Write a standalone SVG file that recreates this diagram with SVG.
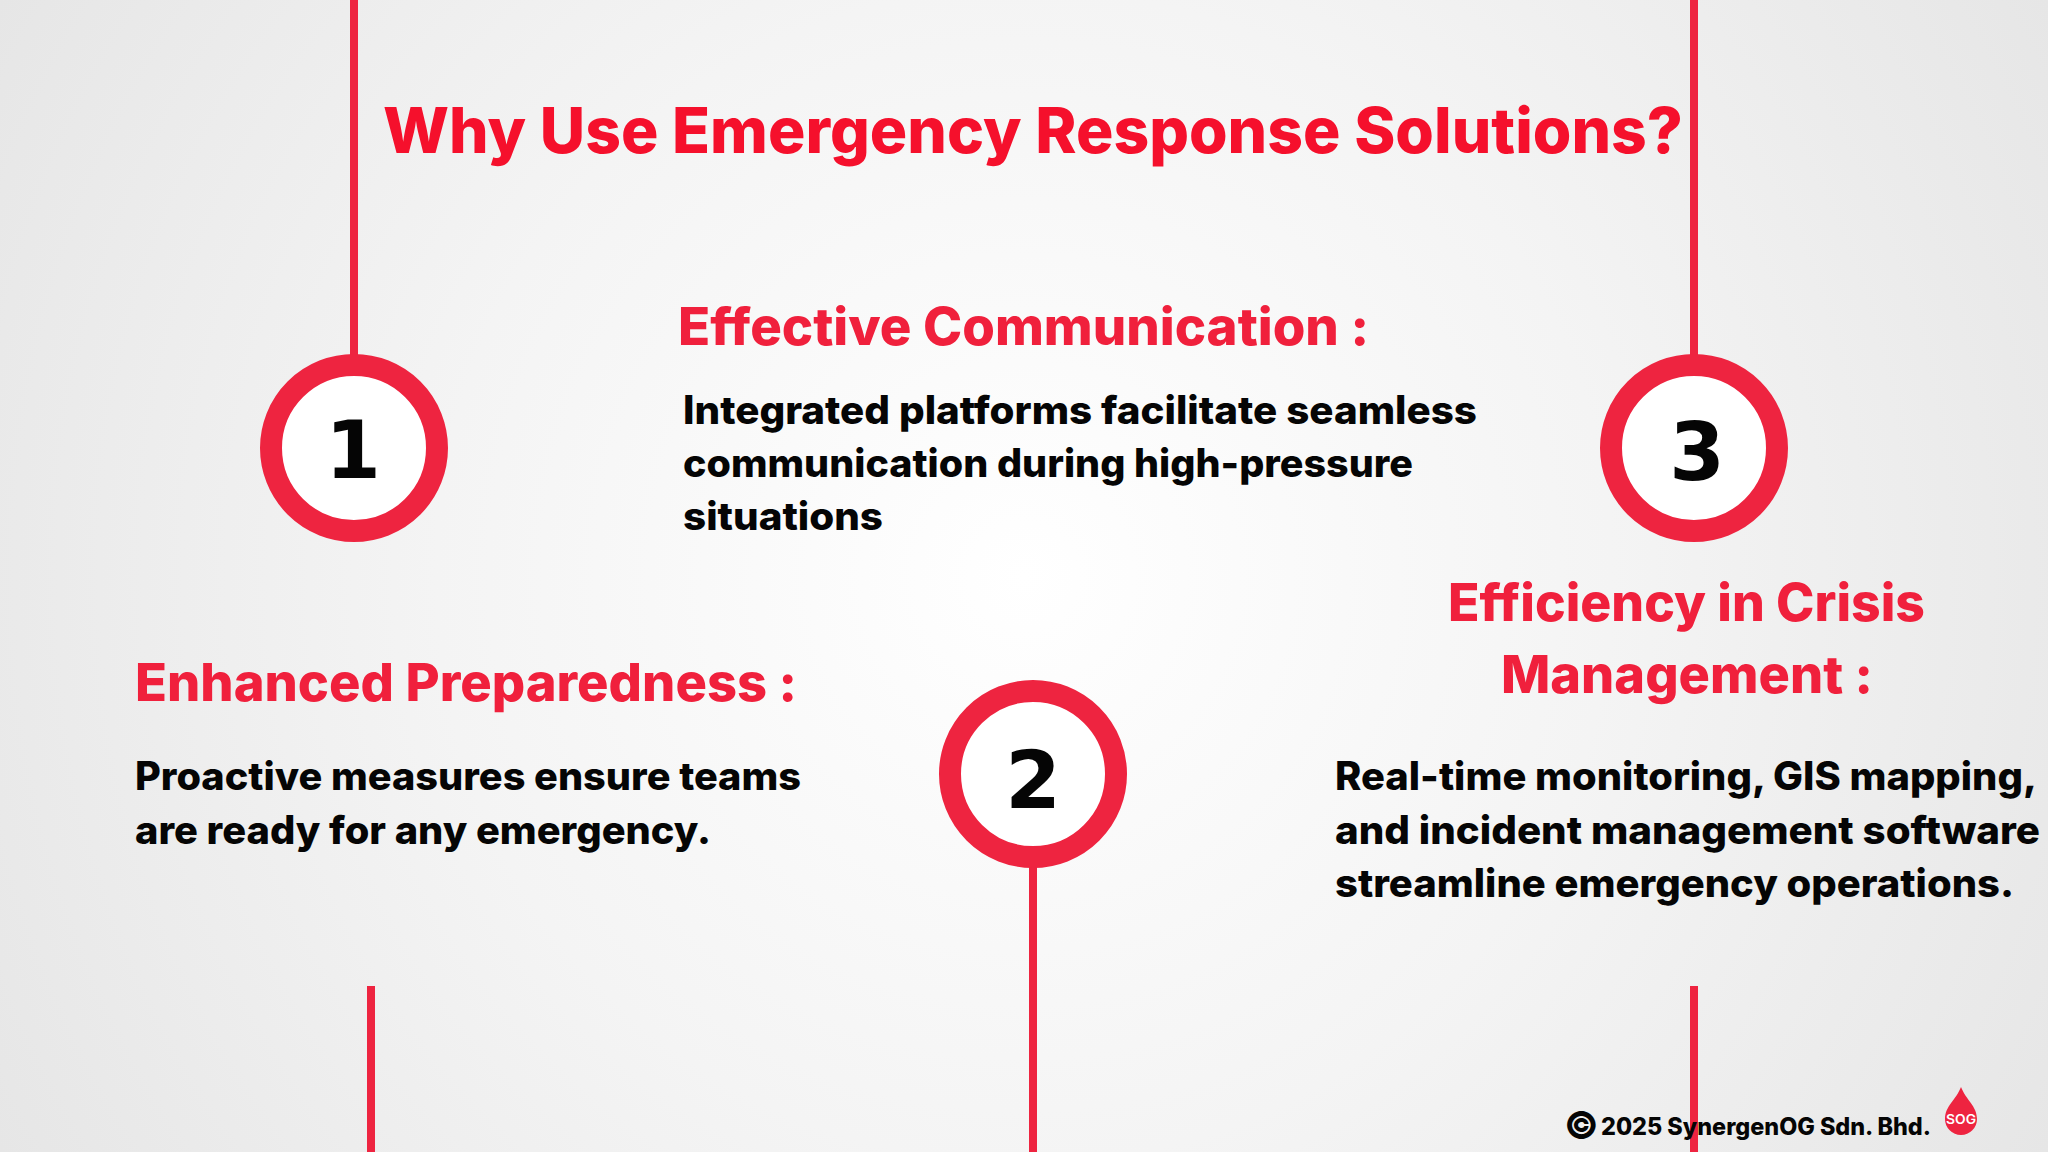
<svg xmlns="http://www.w3.org/2000/svg" width="2048" height="1152" viewBox="0 0 2048 1152">
<defs><radialGradient id="bg" gradientUnits="userSpaceOnUse" cx="1024" cy="576" r="1175"><stop offset="0" stop-color="#ffffff"/><stop offset="0.5" stop-color="#f4f4f4"/><stop offset="1" stop-color="#e6e6e6"/></radialGradient></defs>
<style>
.h{font-family:"Inter","Liberation Sans",sans-serif;font-weight:800;fill:#f0203c}
.t{fill:#f5102c}
.b{font-family:"Inter","Liberation Sans",sans-serif;font-weight:800;fill:#050505;font-size:39px}
.n{font-family:"DejaVu Sans",sans-serif;font-weight:700;font-size:80px;fill:#050505;text-anchor:middle}
.f{font-family:"Inter","Liberation Sans",sans-serif;font-weight:800;fill:#050505}
.l{stroke:#ee2440;stroke-width:8;fill:none}
.c{fill:#fff;stroke:#ee2440;stroke-width:22}
</style>
<rect width="2048" height="1152" fill="url(#bg)"/>
<g id="connectors">
<path class="l" d="M354 0V360M1694 0V360M1033 860V1152M371 986V1152M1694 986V1152"/>
</g>
<g id="title"><text class="h t" x="383" y="153" font-size="63" textLength="1300" lengthAdjust="spacingAndGlyphs">Why Use Emergency Response Solutions?</text></g>
<g id="node1"><circle class="c" cx="354" cy="448" r="83"/><text class="n" x="353" y="478">1</text></g>
<g id="node2"><circle class="c" cx="1033" cy="774" r="83"/><text class="n" x="1033" y="808">2</text></g>
<g id="node3"><circle class="c" cx="1694" cy="448" r="83"/><text class="n" x="1697" y="480">3</text></g>
<g id="text1"><text class="h" x="135" y="701" font-size="52" textLength="662" lengthAdjust="spacingAndGlyphs">Enhanced Preparedness :</text>
<text class="b" x="135" y="790" textLength="666" lengthAdjust="spacingAndGlyphs">Proactive measures ensure teams</text><text class="b" x="135" y="844" textLength="576" lengthAdjust="spacingAndGlyphs">are ready for any emergency.</text></g>
<g id="text2"><text class="h" x="678" y="345" font-size="52" textLength="691" lengthAdjust="spacingAndGlyphs">Effective Communication :</text>
<text class="b" x="683" y="424" textLength="794" lengthAdjust="spacingAndGlyphs">Integrated platforms facilitate seamless</text><text class="b" x="683" y="477" textLength="730" lengthAdjust="spacingAndGlyphs">communication during high-pressure</text><text class="b" x="683" y="530" textLength="200" lengthAdjust="spacingAndGlyphs">situations</text></g>
<g id="text3"><text class="h" x="1448" y="621" font-size="52" textLength="477" lengthAdjust="spacingAndGlyphs">Efficiency in Crisis</text><text class="h" x="1501" y="693" font-size="52" textLength="372" lengthAdjust="spacingAndGlyphs">Management :</text>
<text class="b" x="1335" y="790" textLength="702" lengthAdjust="spacingAndGlyphs">Real-time monitoring, GIS mapping,</text><text class="b" x="1335" y="844" textLength="705" lengthAdjust="spacingAndGlyphs">and incident management software</text><text class="b" x="1335" y="897" textLength="679" lengthAdjust="spacingAndGlyphs">streamline emergency operations.</text></g>
<g id="footer"><text class="f" x="1564" y="1139" font-size="38">©</text><text class="f" x="1601" y="1135" font-size="24" textLength="330" lengthAdjust="spacingAndGlyphs">2025 SynergenOG Sdn. Bhd.</text>
<path d="M1961 1087C1966 1100 1977 1106 1977 1119A16 16 0 0 1 1945 1119C1945 1106 1956 1100 1961 1087Z" fill="#ee2440"/>
<text x="1946" y="1124" font-family="Inter,'Liberation Sans',sans-serif" font-weight="600" font-size="13" fill="#fff" textLength="30" lengthAdjust="spacingAndGlyphs">SOG</text></g>
</svg>
